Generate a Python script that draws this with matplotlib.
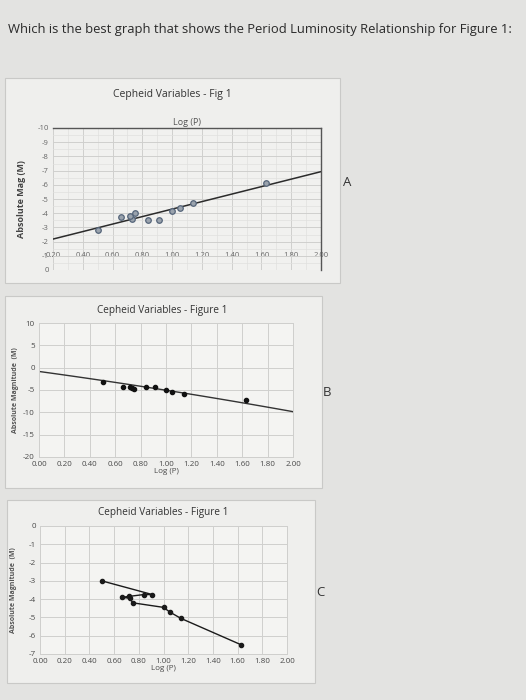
import numpy as np
import matplotlib
matplotlib.use("Agg")
import matplotlib.pyplot as plt
from matplotlib.patches import Rectangle

plt.rcParams['font.family'] = ['Open Sans', 'DejaVu Sans']
plt.rcParams['axes.unicode_minus'] = False  # 用普通连字符作负号

# 数据: 造父变星 log(P) 与绝对星等 (三个学生图各自读数)
log_p = [0.50, 0.91, 0.84, 0.66, 0.73, 0.72, 0.75, 1.00, 1.05, 1.14, 1.63]
mag_a = [-2.85, -3.5, -3.5, -3.7, -3.6, -3.8, -4.0, -4.15, -4.4, -4.75, -6.1]
mag_b = [-3.3, -4.3, -4.25, -4.4, -4.55, -4.25, -4.8, -5.0, -5.4, -5.85, -7.3]
mag_c = [-3.0, -3.75, -3.75, -3.9, -3.95, -3.85, -4.2, -4.45, -4.7, -5.05, -6.5]

# 图 B 的二次趋势线系数 (从图上读出, 高次在前)
trend_b = [-0.3, -3.9, -0.85]

ticks_a = [0.20, 0.40, 0.60, 0.80, 1.00, 1.20, 1.40, 1.60, 1.80, 2.00]
ticks_bc = [0.00, 0.20, 0.40, 0.60, 0.80, 1.00, 1.20, 1.40, 1.60, 1.80, 2.00]
yticks_a = list(range(-10, 1))
yticks_b = [10, 5, 0, -5, -10, -15, -20]
yticks_c = list(range(-7, 1))

W, H = 526, 700
fig = plt.figure(figsize=(W / 100, H / 100), dpi=100)
fig.patch.set_facecolor('#e3e3e1')


def fbox(x0, y0, x1, y1):
    # 像素坐标 -> figure 坐标
    return [x0 / W, 1 - y1 / H, (x1 - x0) / W, (y1 - y0) / H]


def panel(x0, y0, x1, y1):
    l, b, w, h = fbox(x0, y0, x1, y1)
    fig.patches.append(Rectangle((l, b), w, h, transform=fig.transFigure,
                                 facecolor='#efefed', edgecolor='#c9c9c7', lw=0.8, zorder=-5))


fig.text(8 / W, 1 - 30 / H,
         'Which is the best graph that shows the Period Luminosity Relationship for Figure 1:',
         fontsize=9.4, color='#2a2a2a', va='center', ha='left')

grid_kw = dict(color='#cfcfcd', lw=0.7)
tick_col = '#4a4a4a'

# ---------- A ----------
panel(5, 78, 340, 283)
ax = fig.add_axes(fbox(53, 128, 321, 270))
ax.set_facecolor('#f1f1ef')
ax.set_xlim(0.2, 2.0)
ax.set_ylim(0, -10)
ax.set_xticks(ticks_a)
ax.set_xticklabels([f'{t:.2f}' for t in ticks_a])
ax.set_yticks(yticks_a)
ax.set_xticks(np.arange(0.3, 2.0, 0.2), minor=True)
ax.set_yticks(np.arange(-9.5, 0, 1), minor=True)
ax.grid(True, which='major', **grid_kw)
ax.grid(True, which='minor', color='#e0e0de', lw=0.5)
ax.set_axisbelow(True)
ax.spines['bottom'].set_position(('data', -1))
ax.spines['bottom'].set_visible(False)
ax.spines['left'].set_visible(False)
ax.spines['top'].set_color('#555555')
ax.spines['right'].set_color('#555555')
ax.spines['top'].set_linewidth(1.0)
ax.spines['right'].set_linewidth(1.0)
ax.tick_params(which='both', length=0)
ax.tick_params(axis='x', labelsize=5.5, labelcolor='#666666', pad=-3)
ax.tick_params(axis='y', labelsize=5.5, labelcolor='#666666', pad=3)
ax.plot(log_p, mag_a, 'o', ms=4, mfc='#9aa3ad', mec='#55657a', mew=0.9, zorder=3)
k, c0 = np.polyfit(log_p, mag_a, 1)
xa = np.array([0.2, 2.0])
ax.plot(xa, k * xa + c0, color='#2b2b2b', lw=1.1, zorder=2)
ax.set_title('Log (P)', fontsize=6.5, color='#555555', pad=2)
ax.set_ylabel('Absolute Mag (M)', fontsize=6.5, fontweight='bold', color='#444444', labelpad=8)
fig.text(172 / W, 1 - 94 / H, 'Cepheid Variables - Fig 1', fontsize=7.5, color='#333333',
         ha='center', va='center')
fig.text(347 / W, 1 - 183 / H, 'A', fontsize=9.5, color='#333333', ha='center', va='center')

# ---------- B ----------
panel(5, 296, 322, 488)
ax = fig.add_axes(fbox(39, 323, 293, 457))
ax.set_facecolor('#f4f4f2')
ax.set_xlim(0, 2.0)
ax.set_ylim(-20, 10)
ax.set_xticks(ticks_bc)
ax.set_xticklabels([f'{t:.2f}' for t in ticks_bc])
ax.set_yticks(yticks_b)
ax.grid(True, **grid_kw)
ax.set_axisbelow(True)
for s in ax.spines.values():
    s.set_color('#cfcfcd')
    s.set_linewidth(0.7)
ax.tick_params(length=0, labelsize=5.8, labelcolor=tick_col, pad=3)
xb = np.linspace(0, 2.0, 100)
ax.plot(xb, np.polyval(trend_b, xb), color='#333333', lw=1.0, zorder=2)
ax.plot(log_p, mag_b, 'o', ms=3, color='#111111', zorder=3)
ax.set_xlabel('Log (P)', fontsize=5.8, color=tick_col, labelpad=0)
ax.set_ylabel('Absolute Magnitude  (M)', fontsize=5, fontweight='bold', color='#555555', labelpad=3)
fig.text(162 / W, 1 - 310 / H, 'Cepheid Variables - Figure 1', fontsize=7.2, color='#333333',
         ha='center', va='center')
fig.text(327 / W, 1 - 393 / H, 'B', fontsize=9.5, color='#333333', ha='center', va='center')

# ---------- C ----------
panel(7, 500, 315, 683)
ax = fig.add_axes(fbox(40, 526, 287, 654))
ax.set_facecolor('#f4f4f2')
ax.set_xlim(0, 2.0)
ax.set_ylim(-7, 0)
ax.set_xticks(ticks_bc)
ax.set_xticklabels([f'{t:.2f}' for t in ticks_bc])
ax.set_yticks(yticks_c)
ax.grid(True, **grid_kw)
ax.set_axisbelow(True)
for s in ax.spines.values():
    s.set_color('#cfcfcd')
    s.set_linewidth(0.7)
ax.tick_params(length=0, labelsize=5.8, labelcolor=tick_col, pad=3)
ax.plot(log_p, mag_c, '-o', ms=3, color='#1a1a1a', lw=1.0)
ax.set_xlabel('Log (P)', fontsize=5.8, color=tick_col, labelpad=0)
ax.set_ylabel('Absolute Magnitude  (M)', fontsize=5, fontweight='bold', color='#555555', labelpad=8)
fig.text(163 / W, 1 - 513 / H, 'Cepheid Variables - Figure 1', fontsize=7.2, color='#333333',
         ha='center', va='center')
fig.text(320 / W, 1 - 592 / H, 'C', fontsize=9.5, color='#333333', ha='center', va='center')

fig.savefig('out.png', dpi=100, facecolor=fig.get_facecolor())
